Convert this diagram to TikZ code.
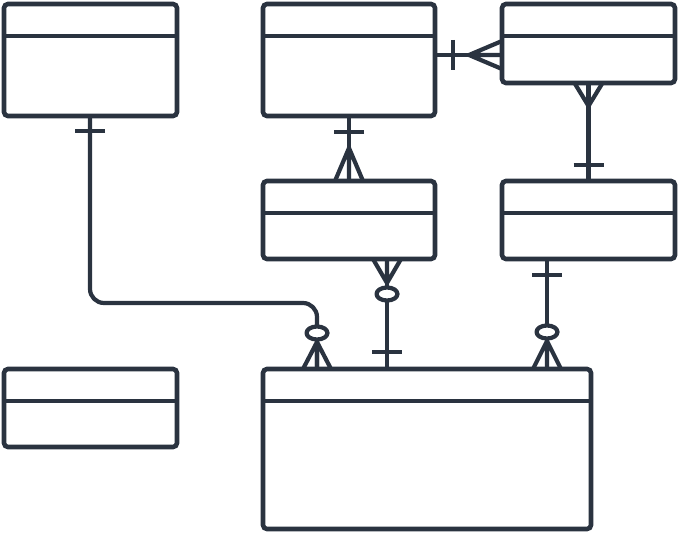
\documentclass[tikz,border=0pt]{standalone}
\usepackage{xcolor}
\usepackage{tikz}
\usetikzlibrary{positioning}
\definecolor{erdark}{RGB}{42,51,64}
\tikzset{
  entity/.style={draw=erdark, line width=4.6pt, rounded corners=4pt, fill=white, inner sep=0pt, outer sep=0pt}, % Define the entity style
  header/.style={draw=erdark, line width=4.2pt}, % Define the header line style
  link/.style={draw=erdark, line width=4.2pt, line join=round},
  pics/onebar/.style={code={\draw[link] (#1,-15) -- (#1,15);}},
  pics/crowsfoot/.style={code={\draw[link] (0,-14) -- (#1,0) -- (0,14) (0,0) -- (#1,0);}},
  pics/zeroring/.style={code={\draw[link, fill=white] (#1,0) ellipse [x radius=6.5pt, y radius=10.5pt];}}
}
\begin{document}
\begin{tikzpicture}[x=1pt, y=-1pt]
        \useasboundingbox (0,0) rectangle (680,535);

        % Entities
        \node[entity, anchor=north west, minimum width=173pt, minimum height=112pt] (e1) at (4,4) {};
        \node[entity, anchor=north west, minimum width=172pt, minimum height=112pt] (e2) at (263,4) {};
        \node[entity, anchor=north west, minimum width=173pt, minimum height=79pt] (e3) at (502,4) {};
        \node[entity, minimum width=172pt, minimum height=78pt] (e4) [below=65pt of e2] {};
        \node[entity, minimum width=173pt, minimum height=78pt] (e5) [below=98pt of e3] {};
        \node[entity, minimum width=173pt, minimum height=78pt] (e6) [below=253pt of e1] {};
        \node[entity, anchor=north west, minimum width=328pt, minimum height=160pt] (e7) at (263,369) {};

        % Headers
        \foreach \e in {e1,e2,e3,e4,e5,e6,e7}
          \draw[header] ([yshift=-32pt]\e.north west) -- ([yshift=-32pt]\e.north east);

        % Relationships
        \draw[link, rounded corners=14pt] ([xshift=86pt]e1.south west) |- ([xshift=54pt,yshift=66pt]e7.north west) -- ([xshift=54pt]e7.north west);
        \draw[link] ([yshift=-51pt]e2.north east) -- ([yshift=-51pt]e3.north west);
        \draw[link] (e2.south) -- (e4.north);
        \draw[link] (e3.south) -- (e5.north);
        \draw[link] ([xshift=124pt]e4.south west) -- ([xshift=124pt]e7.north west);
        \draw[link] ([xshift=45pt]e5.south west) -- ([xshift=284pt]e7.north west);

        % Cardinality ends
        \pic[rotate=-90] at ([xshift=86pt]e1.south west) {onebar=15};
        \pic[rotate=90] at ([xshift=54pt]e7.north west) {crowsfoot=27};
        \pic[rotate=90] at ([xshift=54pt]e7.north west) {zeroring=36};

        \pic at ([yshift=-51pt]e2.north east) {onebar=18};
        \pic[rotate=180] at ([yshift=-51pt]e3.north west) {crowsfoot=33};

        \pic[rotate=-90] at (e2.south) {onebar=16};
        \pic[rotate=90] at (e4.north) {crowsfoot=33};

        \pic[rotate=-90] at (e3.south) {crowsfoot=23};
        \pic[rotate=90] at (e5.north) {onebar=16};

        \pic[rotate=-90] at ([xshift=124pt]e4.south west) {crowsfoot=24};
        \pic[rotate=-90] at ([xshift=124pt]e4.south west) {zeroring=35};
        \pic[rotate=90] at ([xshift=124pt]e7.north west) {onebar=17};

        \pic[rotate=-90] at ([xshift=45pt]e5.south west) {onebar=16};
        \pic[rotate=90] at ([xshift=284pt]e7.north west) {crowsfoot=28};
        \pic[rotate=90] at ([xshift=284pt]e7.north west) {zeroring=37};
    \end{tikzpicture}
\end{document}
